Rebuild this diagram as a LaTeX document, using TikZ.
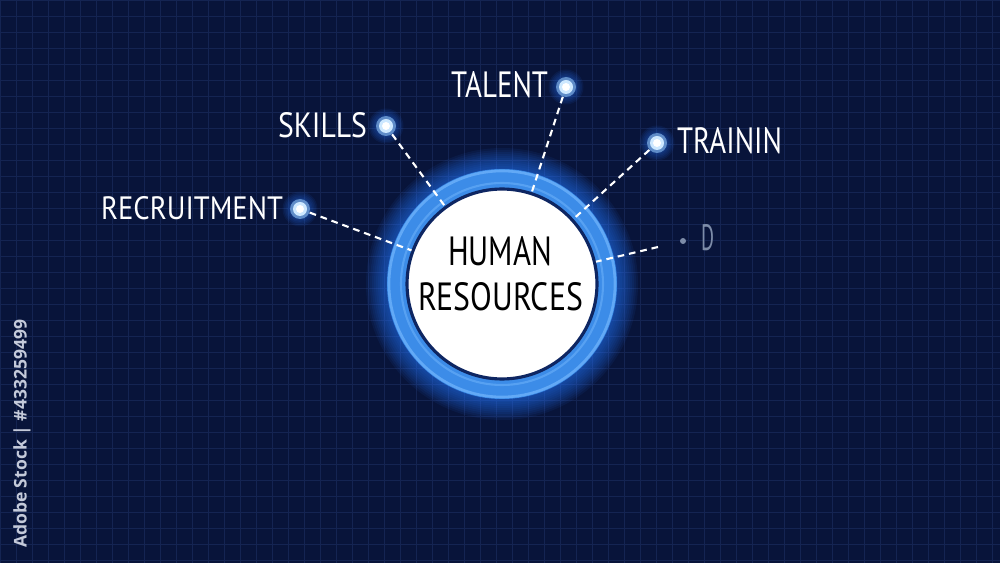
\documentclass[tikz,border=0pt]{standalone}
\usepackage{fontspec}
\setmainfont{PT Sans}
\newfontfamily\wmfont{Open Sans}
\usepackage{graphicx}
\definecolor{bgnavy}{RGB}{8,20,58}
\definecolor{gridblue}{RGB}{20,36,82}
\definecolor{ringblue}{RGB}{60,140,232}
\definecolor{ringlight}{RGB}{115,182,252}
\definecolor{glowblue}{RGB}{40,120,255}
\definecolor{diskedge}{RGB}{14,38,98}
\definecolor{dotouter}{RGB}{95,140,200}
\definecolor{dotinner}{RGB}{205,232,255}
\definecolor{fadegray}{RGB}{125,140,168}
\definecolor{wmgray}{RGB}{196,202,218}
\begin{document}
\begin{tikzpicture}[x=0.02cm,y=-0.02cm,
  gridline/.style={draw=gridblue,line width=0.4pt},
  dashline/.style={draw=white,line width=1.2pt,dash pattern=on 3.8pt off 2.8pt},
  dotnode/.style={circle,minimum size=0.4cm,inner sep=0pt,fill=dotouter},
  lbl/.style={inner sep=0pt,text=white},
  ctr/.style={inner sep=0pt,text=black}]
\useasboundingbox (0,0) rectangle (1000,563);
\fill[bgnavy] (0,0) rectangle (1000,563);
% grid
\foreach \gx in {0,16,...,992} \draw[gridline] (\gx,0) -- (\gx,563);
\foreach \gy in {0,16,...,560} \draw[gridline] (0,\gy) -- (1000,\gy);
% watermark id
\node[rotate=90,inner sep=0pt,text=wmgray] (wm) at (22,434)
  {\resizebox{4.56cm}{!}{\wmfont\fontseries{sb}\selectfont Adobe Stock | \#433259499}};
% ring glow
\foreach \r in {116,118,...,136} \fill[glowblue,opacity=0.07] (502,284) circle (\r);
\fill[ringblue] (502,284) circle (115);
\draw[ringlight,line width=1.5pt,opacity=0.7] (502,284) circle (113);
\draw[ringlight,line width=1.2pt,opacity=0.5] (502,284) circle (101);
% centre disk
\node[circle,minimum size=3.8cm,inner sep=0pt,fill=white,draw=diskedge,line width=1.8pt] (hr) at (502,284) {};
\node[ctr] (hum) at (500,251.5) {\resizebox{2.08cm}{0.58cm}{HUMAN}};
\node[ctr] (res) at (500.5,297) {\resizebox{3.30cm}{0.56cm}{RESOURCES}};
% dot glows
\foreach \p in {(300,209),(386,126),(566,87),(657,143)}
  \foreach \r in {10,11.5,...,18} \fill[glowblue,opacity=0.08] \p circle (\r);
% dots
\node[dotnode] (dRec) at (300,209) {};
\node[dotnode] (dSki) at (386,126) {};
\node[dotnode] (dTal) at (566,87) {};
\node[dotnode] (dTra) at (657,143) {};
\foreach \n in {dRec,dSki,dTal,dTra} {
  \fill[dotinner] (\n.center) circle (7);
  \fill[white] (\n.center) circle (4);
}
\node[circle,minimum size=0.12cm,inner sep=0pt,fill=fadegray] (dD) at (683,241) {};
\coordinate (dEnd) at (658,247);
% connectors
\draw[dashline] (dRec) -- (hr);
\draw[dashline] (dSki) -- (hr);
\draw[dashline] (dTal) -- (hr);
\draw[dashline] (dTra) -- (hr);
\draw[dashline] (dEnd) -- (hr);
% labels
\node[lbl] (lRec) at (192,208.5) {\resizebox{3.64cm}{0.46cm}{RECRUITMENT}};
\node[lbl] (lSki) at (322.5,125.5) {\resizebox{1.78cm}{0.50cm}{SKILLS}};
\node[lbl] (lTal) at (499.5,85) {\resizebox{1.94cm}{0.52cm}{TALENT}};
\node[lbl] (lTra) at (729.5,141) {\resizebox{2.10cm}{0.52cm}{TRAININ}};
\node[inner sep=0pt,text=fadegray] (lD) at (707.5,238) {\resizebox{0.26cm}{0.52cm}{D}};
\end{tikzpicture}
\end{document}
